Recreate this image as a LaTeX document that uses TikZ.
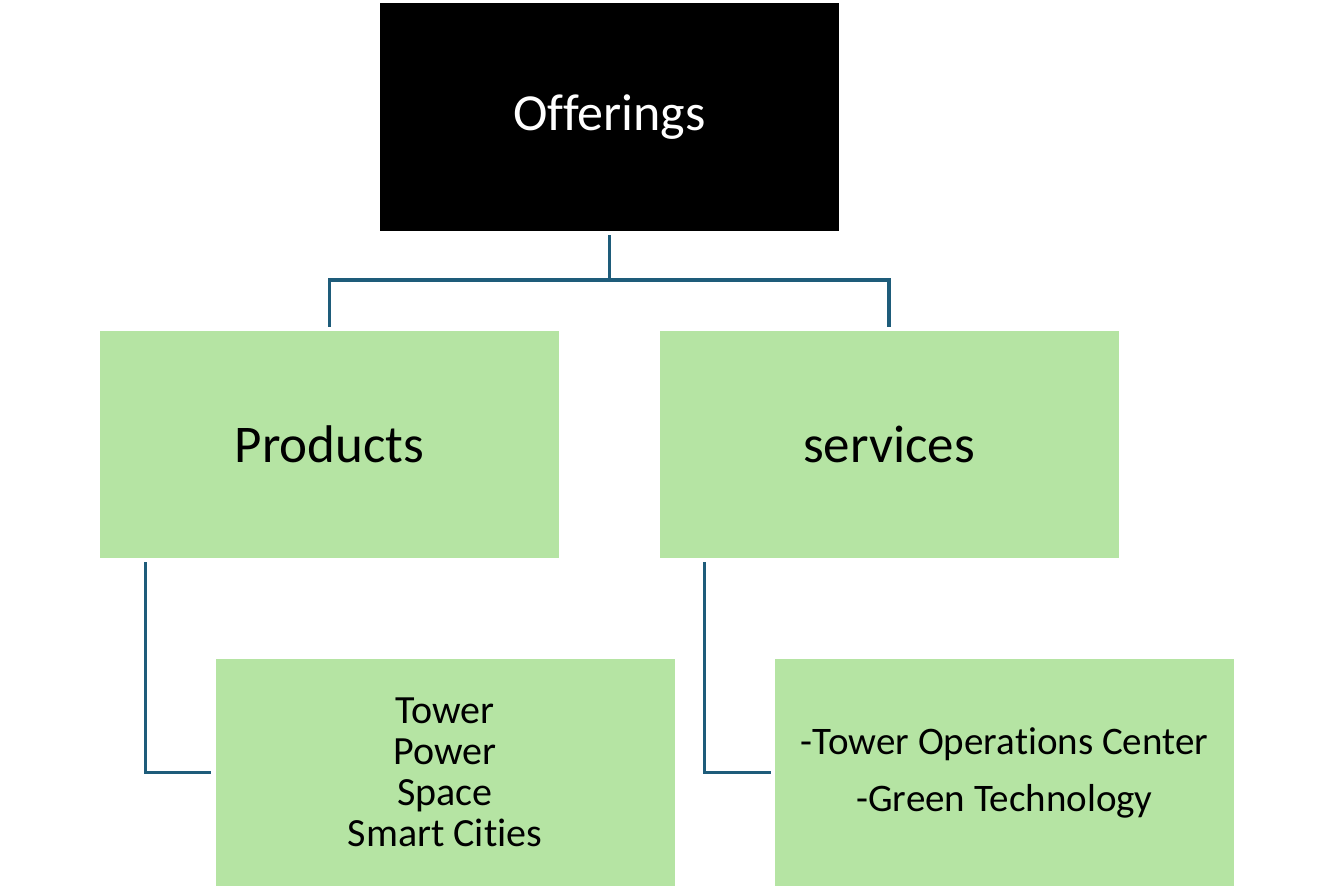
\documentclass[tikz,border=0pt]{standalone}
\usepackage{fontspec}
\setmainfont{Carlito}[Ligatures={NoCommon}]
\definecolor{boxgreen}{RGB}{181,228,163}
\definecolor{connblue}{RGB}{30,92,122}
\begin{document}
\begin{tikzpicture}[x=1pt,y=-1pt,
  box/.style={rectangle, inner sep=0pt, minimum width=459pt, minimum height=227pt, align=center},
  greenbox/.style={box, fill=boxgreen, text=black},
  conn/.style={draw=connblue, line width=3.2pt}]
\useasboundingbox (0,0) rectangle (1334,890);
\node[box, fill=black, text=white, minimum height=228pt, font=\fontsize{52}{60}\selectfont] (top) at (609.5,117) {Offerings};
\node[greenbox, font=\fontsize{53}{60}\selectfont] (prod) at (329.5,444.5) {Products};
\node[greenbox, font=\fontsize{53}{60}\selectfont] (serv) at (889,444.5) {services};
\node[greenbox, font=\fontsize{40}{41}\selectfont] (prodc) at (445,772.5) {Tower\\Power\\Space\\Smart Cities};
\node[greenbox, font=\fontsize{39}{57}\selectfont] (servc) at (1004.5,772.5) {-Tower Operations Center\\-Green Technology};
\coordinate (bus) at (609.5,280);
\draw[conn, shorten <=4pt] (top.south) -- (bus);
\draw[conn, shorten >=4pt] (bus) -| (prod.north);
\draw[conn, shorten >=4pt] (bus) -| (serv.north);
\draw[conn, shorten <=4pt, shorten >=4pt] ([xshift=46pt]prod.south west) |- (prodc.west);
\draw[conn, shorten <=4pt, shorten >=4pt] ([xshift=45pt]serv.south west) |- (servc.west);
\end{tikzpicture}
\end{document}
